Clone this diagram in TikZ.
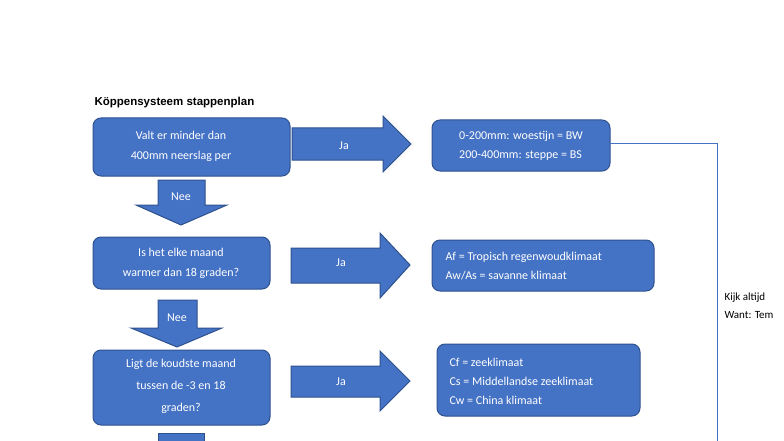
\documentclass[tikz,border=0pt]{standalone}
\usepackage{fontspec}
\setmainfont{Carlito}
\newfontfamily\titlefont{Liberation Sans}
\usetikzlibrary{positioning}
\definecolor{boxblue}{HTML}{4472C4}
\definecolor{boxedge}{HTML}{2F528F}
\begin{document}
\begin{tikzpicture}[x=1pt, y=-1pt,
  vak/.style = {draw=boxedge, fill=boxblue, line width=1pt, rounded corners=8pt},
  blok/.style = {draw=boxedge, fill=boxblue, line width=1pt, line join=miter},
  lbl/.style = {text=white, font=\fontsize{12}{14}\selectfont},
  side/.style = {font=\fontsize{11}{18}\selectfont, align=left, anchor=west}]
  \useasboundingbox (0,0) rectangle (784,441);
  \clip (0,0) rectangle (784,441);
  \node[anchor=west, font=\titlefont\bfseries\fontsize{11.5}{14}\selectfont] (titel) at (91,103) {Köppensysteem stappenplan};
  % vragen
  \draw[vak] (93,118) rectangle (290,176);
  \node[lbl, align=center, font=\fontsize{12}{20}\selectfont] (vraag1) at (181,146) {Valt er minder dan\\400mm neerslag per};
  \draw[vak] (93,237) rectangle (270,289);
  \node[lbl, align=center, font=\fontsize{12}{20}\selectfont] (vraag2) at (181,263) {Is het elke maand\\warmer dan 18 graden?};
  \draw[vak] (93,350) rectangle (270,425);
  \node[lbl, align=center, font=\fontsize{12}{22}\selectfont] (vraag3) at (181,386) {Ligt de koudste maand\\tussen de -3 en 18\\graden?};
  % antwoorden
  \draw[vak] (432,120) rectangle (610,171);
  \node[lbl, align=left, font=\fontsize{12}{19}\selectfont] (antw1) at (521,146) {0-200mm: woestijn = BW\\200-400mm: steppe = BS};
  \draw[vak] (432,240) rectangle (654,291);
  \node[lbl, align=left, anchor=west, font=\fontsize{12}{19}\selectfont] (antw2) at (442,266) {Af = Tropisch regenwoudklimaat\\Aw/As = savanne klimaat};
  \draw[vak] (437,344) rectangle (640,416);
  \node[lbl, align=left, anchor=west, font=\fontsize{12}{19}\selectfont] (antw3) at (446,381) {Cf = zeeklimaat\\Cs = Middellandse zeeklimaat\\Cw = China klimaat};
  % pijlen ja
  \draw[blok] (292,128) -- (383,128) -- (383,116) -- (411,144) -- (383,172) -- (383,160) -- (292,160) -- cycle;
  \node[lbl] (ja1) at (344,146) {Ja};
  \draw[blok] (291,248) -- (380,248) -- (380,233) -- (410,265) -- (380,298) -- (380,283) -- (291,283) -- cycle;
  \node[lbl] (ja2) at (341,263) {Ja};
  \draw[blok] (291,366) -- (380,366) -- (380,351) -- (410,381) -- (380,411) -- (380,397) -- (291,397) -- cycle;
  \node[lbl] (ja3) at (341,382) {Ja};
  % pijlen nee
  \draw[blok] (158,180) -- (205,180) -- (205,205) -- (227,205) -- (181,225) -- (136,205) -- (158,205) -- cycle;
  \node[lbl] (nee1) at (181,197) {Nee};
  \draw[blok] (158,300) -- (197,300) -- (197,328) -- (222,328) -- (177,347) -- (131,328) -- (158,328) -- cycle;
  \node[lbl] (nee2) at (177,318) {Nee};
  \draw[blok] (158,433) -- (204,433) -- (204,445) -- (158,445) -- cycle;
  % zijlijn
  \coordinate (hoek) at (717,143);
  \coordinate (onder) at (717,441);
  \draw[boxblue, line width=0.8pt] (610,143) -- (hoek) -- (onder);
  \node[side] (tip) at (721,306) {Kijk altijd\\Want: Tem};
\end{tikzpicture}
\end{document}
